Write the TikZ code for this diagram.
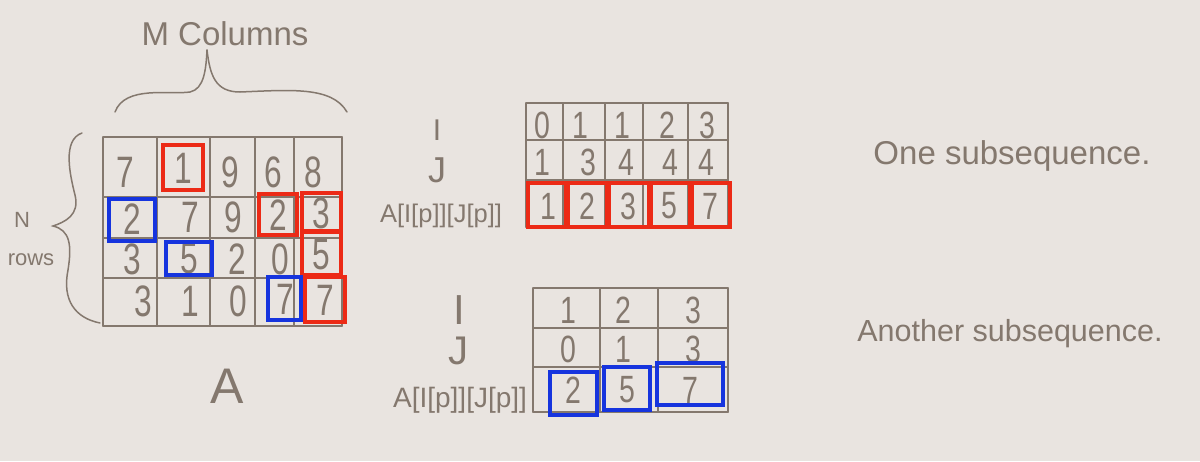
\documentclass[tikz,border=0pt]{standalone}
\usepackage{fontspec}
\setmainfont{Liberation Sans}
\definecolor{paper}{RGB}{233,228,224}
\definecolor{pencil}{RGB}{132,120,110}
\definecolor{redpen}{RGB}{236,42,22}
\definecolor{bluepen}{RGB}{22,52,222}
\newcommand{\fs}[1]{\fontsize{#1}{#1}\selectfont}
\tikzset{
  gridline/.style={draw=pencil,line width=1.5pt,line cap=round},
  brace/.style={draw=pencil,line width=1.5pt,line cap=round},
  txt/.style={text=pencil,inner sep=0pt},
  bigdig/.style={txt,font=\fs{44},xscale=0.72,transform shape},
  tabdig/.style={txt,font=\fs{38},xscale=0.75,transform shape},
  rbox/.style={draw=redpen,line width=3.6pt},
  bbox/.style={draw=bluepen,line width=3.6pt},
}
\begin{document}
\begin{tikzpicture}[x=1pt,y=-1pt]
\fill[paper] (0,0) rectangle (1200,461);
\useasboundingbox (0,0) rectangle (1200,461);

% ---------- matrix A ----------
\foreach \x in {103,157,210,255,294,342} \draw[gridline] (\x,137) -- (\x,326);
\foreach \y in {137,197,238,278,326} \draw[gridline] (103,\y) -- (342,\y);

\foreach \v/\x/\y [count=\i] in {
  7/125/172, 1/183/168, 9/230/172, 6/273/172, 8/313/172,
  2/132/219, 7/190/217, 9/233/217, 2/278/215, 3/321/213,
  3/132/259, 5/189/259, 2/237/259, 0/280/259, 5/321/255,
  3/143/301, 1/190/301, 0/238/301, 7/285/299, 7/325/300}
  \node[bigdig] (a\i) at (\x,\y) {\v};

\draw[rbox] (163,145) rectangle (203,190);
\draw[rbox] (259,194) rectangle (297,235);
\draw[rbox] (302,193) rectangle (341,231);
\draw[rbox] (302,232) rectangle (341,275);
\draw[rbox] (305,277) rectangle (345,322);
\draw[bbox] (109,199) rectangle (155,241);
\draw[bbox] (166,242) rectangle (212,275);
\draw[bbox] (268,277) rectangle (301,320);

% braces
\draw[brace] (115,112) .. controls (125,85) and (170,95) .. (190,92)
  .. controls (204,89) and (206,70) .. (207,50);
\draw[brace] (207,50) .. controls (210,75) and (215,92) .. (240,92)
  .. controls (290,90) and (332,86) .. (347,112);
\draw[brace] (82,133) .. controls (62,140) and (70,175) .. (75,195)
  .. controls (80,215) and (65,222) .. (53,226)
  .. controls (70,230) and (72,245) .. (68,270)
  .. controls (62,300) and (75,318) .. (100,323);

\node[txt,font=\fs{33}] (mcol) at (225,34) {M Columns};
\node[txt,font=\fs{22}] (nlab) at (22,220) {N};
\node[txt,font=\fs{22}] (rlab) at (31,260) {rows};
\node[txt,font=\fs{50}] (alab) at (227,386) {A};

% ---------- first subsequence table ----------
\foreach \x in {526,563,605,643,688,728} \draw[gridline] (\x,103) -- (\x,227);
\foreach \y in {103,140,180,227} \draw[gridline] (526,\y) -- (728,\y);
\foreach \v/\x/\y [count=\i] in {
  0/542/125, 1/580/125, 1/622/125, 2/667/125, 3/707/125,
  1/542/162, 3/588/162, 4/626/162, 4/670/162, 4/706/162}
  \node[tabdig] (t\i) at (\x,\y) {\v};
\foreach \v/\x [count=\i] in {1/548, 2/587, 3/628, 5/669, 7/710}
  \node[tabdig] (ta\i) at (\x,206) {\v};
\draw[rbox] (528,183) rectangle (566,227);
\draw[rbox] (568,183) rectangle (607,227);
\draw[rbox] (609,183) rectangle (649,227);
\draw[rbox] (651,183) rectangle (690,227);
\draw[rbox] (692,183) rectangle (730,227);

\node[txt,font=\fs{30}] (tIl) at (437,130) {I};
\node[txt,font=\fs{36}] (tJl) at (437,170) {J};
\node[txt,font=\fs{25.5}] (tAl) at (441,216) {A[I[p]][J[p]]};

% ---------- second subsequence table ----------
\foreach \x in {533,600,658,728} \draw[gridline] (\x,288) -- (\x,412);
\foreach \y in {288,328,367,412} \draw[gridline] (533,\y) -- (728,\y);
\foreach \v/\x/\y [count=\i] in {
  1/568/310, 2/623/310, 3/693/310,
  0/568/349, 1/623/349, 3/693/349}
  \node[tabdig] (b\i) at (\x,\y) {\v};
\foreach \v/\x [count=\i] in {2/573, 5/627, 7/690}
  \node[tabdig] (ba\i) at (\x,390) {\v};
\draw[bbox] (550,372) rectangle (597,415);
\draw[bbox] (604,367) rectangle (650,410);
\draw[bbox] (657,363) rectangle (723,405);

\node[txt,font=\fs{42}] (bIl) at (459,310) {I};
\node[txt,font=\fs{40}] (bJl) at (458,351) {J};
\node[txt,font=\fs{28}] (bAl) at (460,400) {A[I[p]][J[p]]};

% ---------- notes ----------
\node[txt,font=\fs{33}] (one) at (1012,156) {One subsequence.};
\node[txt,font=\fs{30.5}] (another) at (1010,334) {Another subsequence.};
\end{tikzpicture}
\end{document}
